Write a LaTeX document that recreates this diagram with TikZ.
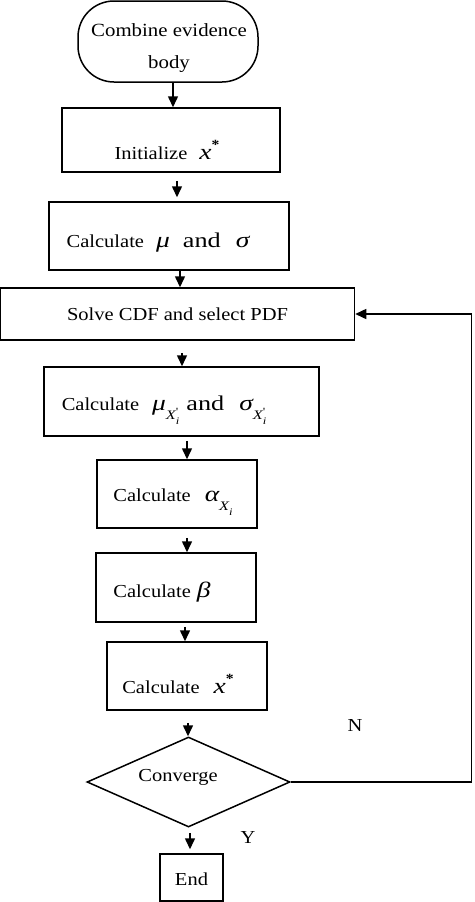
\documentclass[tikz,border=0pt]{standalone}
\usepackage{fontspec}
\setmainfont{Liberation Serif}[FakeStretch=1.12]
\newfontfamily\mfont{Liberation Serif}[FakeStretch=1.25]
\usetikzlibrary{arrows.meta,shapes.geometric}
% big upright word and big italic symbols
\newcommand\andw{{\fontsize{21}{24}\mfont and}}
\newcommand\gk[1]{{\fontsize{22}{24}\mfont\itshape #1}}
% x with star
\newcommand\xstar{\gk{x}\raisebox{10pt}{\fontsize{14}{14}\selectfont\bfseries *}}
% subscript X_i and X'_i
\newcommand\subXi{\raisebox{-9pt}{\fontsize{13}{13}\mfont\itshape X}\raisebox{-14pt}{\fontsize{10}{10}\mfont\itshape i}}
\newcommand\subXpi{\raisebox{-9pt}{\fontsize{13}{13}\mfont\itshape X}\rlap{\raisebox{-5pt}{\fontsize{11}{11}\mfont '}}\raisebox{-14pt}{\fontsize{10}{10}\mfont\itshape i}}
\begin{document}
\begin{tikzpicture}[x=1pt,y=-1pt,
  font=\fontsize{18.3}{30}\selectfont,
  box/.style={draw, line width=1.5pt, inner sep=0pt},
  arr/.style={line width=1.5pt, -{Triangle[length=11pt,width=10pt]}},
  lab/.style={inner sep=0pt}]
\useasboundingbox (0,0) rectangle (474,902);

% shapes with their texts
\node[box, rounded corners=36pt, minimum width=180pt, minimum height=81pt,
  label={[lab,name=t1,align=center,font=\fontsize{18.6}{32}\selectfont,xshift=1pt,yshift=-6.5pt]center:Combine evidence\\body}]
  (term) at (168,41.5) {};
\node[box, minimum width=218pt, minimum height=64pt,
  label={[lab,name=t2,xshift=-4pt,yshift=-10pt]center:Initialize\hspace{12pt}\xstar}]
  (b2) at (171,140) {};
\node[box, minimum width=240pt, minimum height=68pt,
  label={[lab,name=t3,xshift=-11pt,yshift=-7pt]center:Calculate\hspace{12pt}\gk{μ}\hspace{13pt}\andw\hspace{15pt}\gk{σ}}]
  (b3) at (169,236) {};
\node[box, minimum width=354pt, minimum height=52pt,
  label={[lab,name=t4]center:Solve CDF and select PDF}]
  (b4) at (177.5,314) {};
\node[box, minimum width=275pt, minimum height=69pt,
  label={[lab,name=t5,xshift=-17.5pt,yshift=-9pt]center:Calculate\hspace{13pt}\gk{μ}\subXpi\hspace{7pt}\andw\hspace{15pt}\gk{σ}\subXpi}]
  (b5) at (181.5,401.5) {};
\node[box, minimum width=160pt, minimum height=68pt,
  label={[lab,name=t6,xshift=-4pt,yshift=-8pt]center:Calculate\hspace{14pt}\gk{α}\subXi}]
  (b6) at (177,494) {};
\node[box, minimum width=160pt, minimum height=69pt,
  label={[lab,name=t7,xshift=-14pt,yshift=-4.5pt]center:Calculate\hspace{6pt}\gk{β}}]
  (b7) at (176,587.5) {};
\node[box, minimum width=160pt, minimum height=68pt,
  label={[lab,name=t8,xshift=-9pt,yshift=-8pt]center:Calculate\hspace{14pt}\xstar}]
  (b8) at (187,676) {};
\node[draw, line width=1.5pt, diamond, minimum width=203pt, minimum height=90pt, inner sep=0pt,
  label={[lab,name=t9,xshift=-10.5pt,yshift=5pt]center:Converge}]
  (dia) at (188.5,782) {};
\node[box, minimum width=63pt, minimum height=47pt,
  label={[lab,name=t10,yshift=-1.5pt]center:End}]
  (end) at (191.5,877.5) {};

\node[lab] (nlab) at (355,725) {N};
\node[lab] (ylab) at (248,837) {Y};

% arrow start points
\coordinate (a1) at ([xshift=5pt]term.south);
\coordinate (a2) at ([xshift=6pt]b2.south);
\coordinate (a3) at ([xshift=11pt]b3.south);
\coordinate (a4) at ([xshift=4.5pt]b4.south);
\coordinate (a5) at ([xshift=5.5pt]b5.south);
\coordinate (a6) at ([xshift=10pt]b6.south);
\coordinate (a7) at ([xshift=9pt]b7.south);
\coordinate (a8) at ([xshift=1pt]b8.south);
\coordinate (a9) at ([xshift=1.5pt]dia.south);

\draw[arr] (a1) -- (a1 |- b2.north);
\draw[arr,shorten <=8pt,shorten >=4pt] (a2) -- (a2 |- b3.north);
\draw[arr] (a3) -- (a3 |- b4.north);
\draw[arr,shorten <=12pt] (a4) -- (a4 |- b5.north);
\draw[arr,shorten <=4pt] (a5) -- (a5 |- b6.north);
\draw[arr,shorten <=9pt] (a6) -- (a6 |- b7.north);
\draw[arr,shorten <=4pt] (a7) -- (a7 |- b8.north);
\draw[arr,shorten <=12pt] (a8) -- (a8 |- dia.north);
\draw[arr,shorten <=5pt,shorten >=4pt] (a9) -- (a9 |- end.north);

% feedback loop
\coordinate (fb) at (471.5,782);
\draw[arr] (dia.east) -- (fb) |- (b4.east);
\end{tikzpicture}
\end{document}
